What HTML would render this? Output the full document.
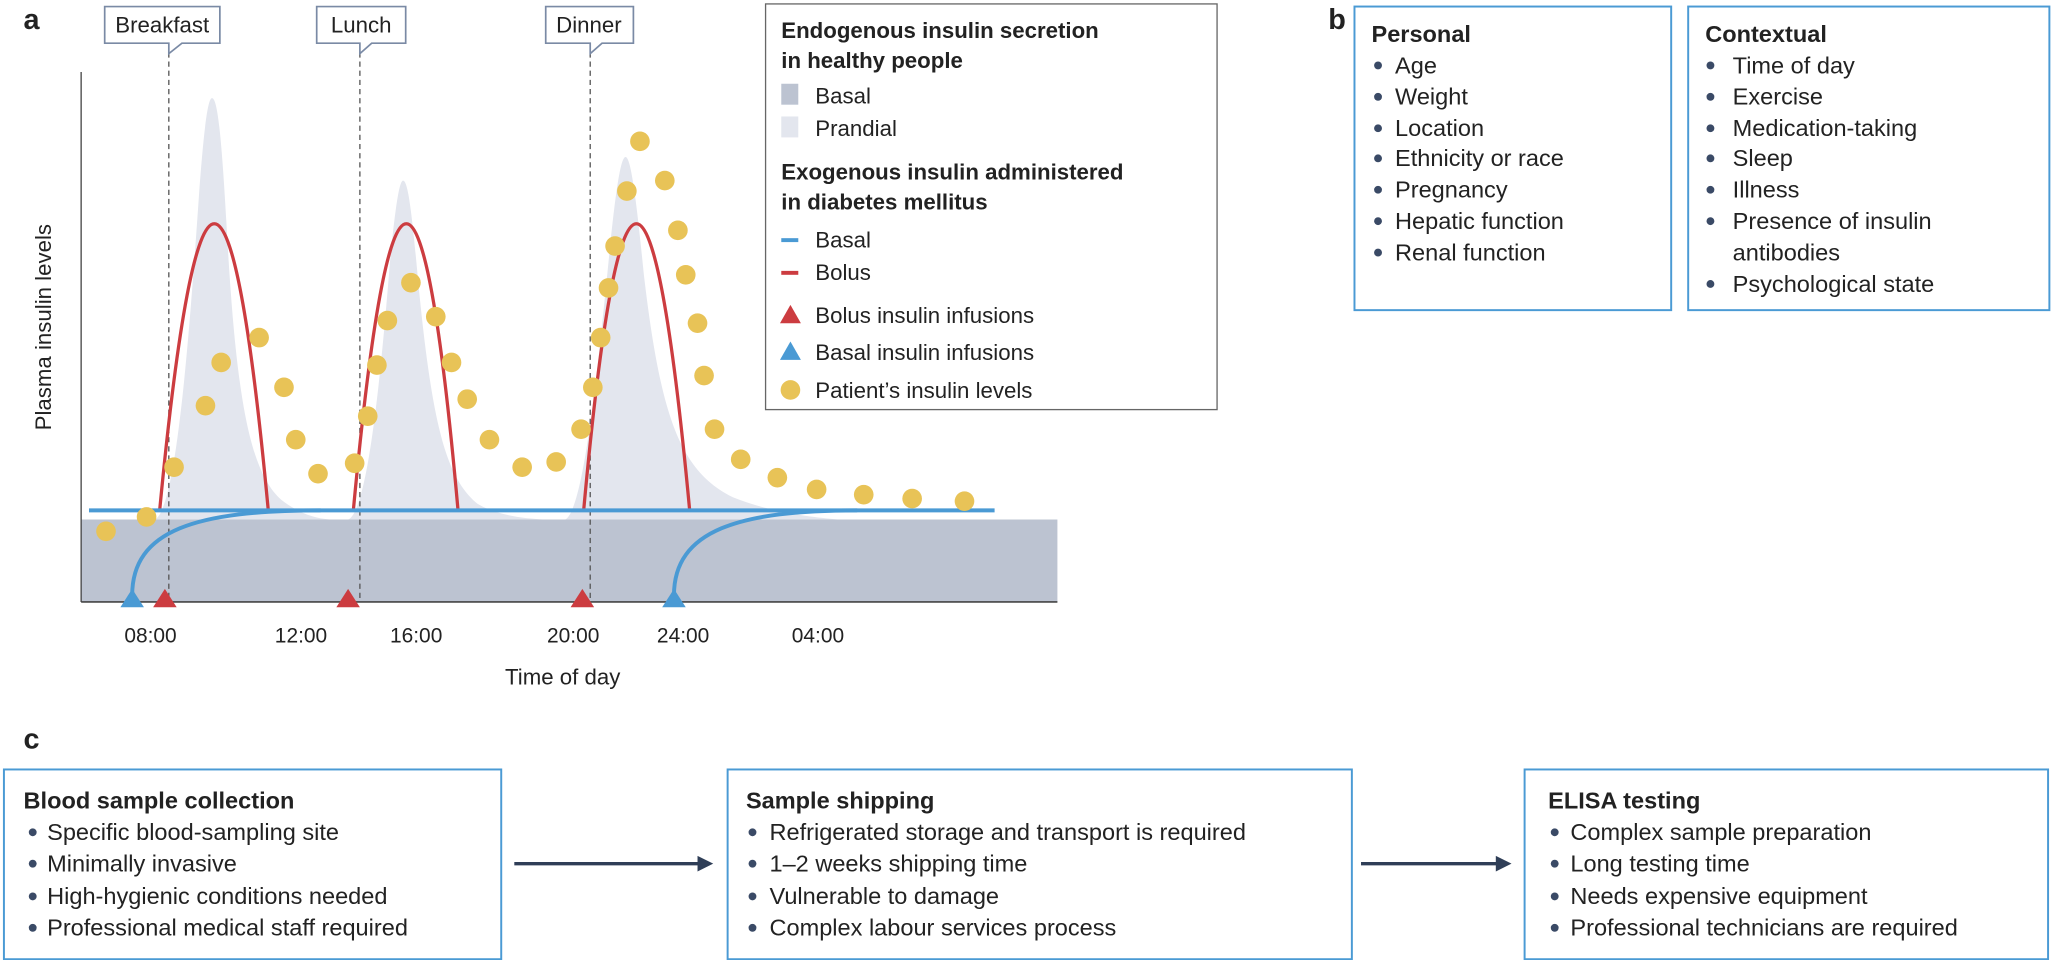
<!DOCTYPE html>
<html><head><meta charset="utf-8"><style>
html,body{margin:0;padding:0;background:#fff;}
svg{display:block;}
text{font-family:"Liberation Sans",sans-serif;fill:#222;}
.b{font-weight:bold;}
</style></head><body>
<svg width="2052" height="960" viewBox="0 0 1568 733.6" preserveAspectRatio="none" xmlns="http://www.w3.org/2000/svg">
<!-- Panel a -->
<text x="18" y="22" class="b" font-size="22">a</text>
<rect x="62" y="397" width="746" height="63" fill="#bcc3d1"/>
<g fill="#e3e6ee">
<path d="M118,397 C135,392 145,250 152,150 C156,95 159,75 162,75 C166,75 169,100 173,170 C180,300 190,360 215,382 C228,392 240,396 252,397 Z"/>
<path d="M266,397 C280,392 290,300 298,200 C302,160 305,138 308,138 C312,138 315,165 320,220 C330,320 340,365 365,385 C380,394 400,396 415,397 Z"/>
<path d="M432,397 C445,390 455,300 465,200 C470,150 474,120 478,120 C482,120 486,150 492,210 C505,320 520,360 560,380 C590,392 620,395 640,397 Z"/>
</g>
<g stroke="#555" stroke-width="1" stroke-dasharray="4,3">
<line x1="129" y1="40" x2="129" y2="460"/>
<line x1="275" y1="40" x2="275" y2="460"/>
<line x1="451" y1="40" x2="451" y2="460"/>
</g>
<line x1="62" y1="55" x2="62" y2="460" stroke="#444" stroke-width="1"/>
<line x1="62" y1="460" x2="808" y2="460" stroke="#444" stroke-width="1.2"/>
<g fill="none" stroke="#cc3c40" stroke-width="2.5">
<path d="M122,390 Q164,-48 205,390"/>
<path d="M270,390 Q311,-48 350,390"/>
<path d="M446,390 Q486,-48 527,390"/>
</g>
<g fill="none" stroke="#4a9ad4" stroke-width="3">
<line x1="68" y1="390" x2="760" y2="390"/>
<path d="M101,455 C101,405 150,390 245,390"/>
<path d="M515,455 C515,405 565,390 655,390"/>
</g>
<g fill="#cc3c40">
<polygon points="126,450 117,464 135,464"/>
<polygon points="266,450 257,464 275,464"/>
<polygon points="445,450 436,464 454,464"/>
</g>
<g fill="#4a9ad4">
<polygon points="101,450 92,464 110,464"/>
<polygon points="515,450 506,464 524,464"/>
</g>
<g fill="#e8c357">
<circle cx="81" cy="406" r="7.5"/><circle cx="112" cy="395" r="7.5"/><circle cx="133" cy="357" r="7.5"/><circle cx="157" cy="310" r="7.5"/><circle cx="169" cy="277" r="7.5"/><circle cx="198" cy="258" r="7.5"/><circle cx="217" cy="296" r="7.5"/><circle cx="226" cy="336" r="7.5"/><circle cx="243" cy="362" r="7.5"/>
<circle cx="271" cy="354" r="7.5"/><circle cx="281" cy="318" r="7.5"/><circle cx="288" cy="279" r="7.5"/><circle cx="296" cy="245" r="7.5"/><circle cx="314" cy="216" r="7.5"/><circle cx="333" cy="242" r="7.5"/><circle cx="345" cy="277" r="7.5"/><circle cx="357" cy="305" r="7.5"/><circle cx="374" cy="336" r="7.5"/><circle cx="399" cy="357" r="7.5"/><circle cx="425" cy="353" r="7.5"/>
<circle cx="444" cy="328" r="7.5"/><circle cx="453" cy="296" r="7.5"/><circle cx="459" cy="258" r="7.5"/><circle cx="465" cy="220" r="7.5"/><circle cx="470" cy="188" r="7.5"/><circle cx="479" cy="146" r="7.5"/><circle cx="489" cy="108" r="7.5"/><circle cx="508" cy="138" r="7.5"/><circle cx="518" cy="176" r="7.5"/><circle cx="524" cy="210" r="7.5"/><circle cx="533" cy="247" r="7.5"/><circle cx="538" cy="287" r="7.5"/><circle cx="546" cy="328" r="7.5"/><circle cx="566" cy="351" r="7.5"/><circle cx="594" cy="365" r="7.5"/><circle cx="624" cy="374" r="7.5"/><circle cx="660" cy="378" r="7.5"/><circle cx="697" cy="381" r="7.5"/><circle cx="737" cy="383" r="7.5"/>
</g>
<g fill="#fff" stroke="#7a8aa5" stroke-width="1.3">
<path d="M80,5 H168 V33 H139 L129,41 V33 H80 Z"/>
<path d="M242,5 H310 V33 H284 L275,41 V33 H242 Z"/>
<path d="M417,5 H484 V33 H460 L451,41 V33 H417 Z"/>
</g>
<g font-size="17">
<text x="124" y="25" text-anchor="middle">Breakfast</text>
<text x="276" y="25" text-anchor="middle">Lunch</text>
<text x="450" y="25" text-anchor="middle">Dinner</text>
</g>
<g font-size="16" text-anchor="middle">
<text x="115" y="491">08:00</text>
<text x="230" y="491">12:00</text>
<text x="318" y="491">16:00</text>
<text x="438" y="491">20:00</text>
<text x="522" y="491">24:00</text>
<text x="625" y="491">04:00</text>
</g>
<text x="430" y="523" font-size="17" text-anchor="middle">Time of day</text>
<text transform="translate(39,250) rotate(-90)" font-size="17" text-anchor="middle">Plasma insulin levels</text>
<rect x="585" y="3" width="345" height="310" fill="#fff" stroke="#666" stroke-width="1"/>
<g font-size="17">
<text x="597" y="29" class="b">Endogenous insulin secretion</text>
<text x="597" y="52" class="b">in healthy people</text>
<rect x="597" y="64" width="13" height="16" fill="#bcc3d1"/>
<text x="623" y="79">Basal</text>
<rect x="597" y="89" width="13" height="16" fill="#e3e6ee"/>
<text x="623" y="104">Prandial</text>
<text x="597" y="137" class="b">Exogenous insulin administered</text>
<text x="597" y="160" class="b">in diabetes mellitus</text>
<rect x="597" y="182" width="13" height="3" fill="#4a9ad4"/>
<text x="623" y="189">Basal</text>
<rect x="597" y="207" width="13" height="3" fill="#cc3c40"/>
<text x="623" y="214">Bolus</text>
<polygon points="604,233 596,247 612,247" fill="#cc3c40"/>
<text x="623" y="247">Bolus insulin infusions</text>
<polygon points="604,261 596,275 612,275" fill="#4a9ad4"/>
<text x="623" y="275">Basal insulin infusions</text>
<circle cx="604" cy="298" r="7.5" fill="#e8c357"/>
<text x="623" y="304">Patient’s insulin levels</text>
</g>
<!-- Panel b -->
<text x="1015" y="22" class="b" font-size="22">b</text>
<rect x="1035" y="5" width="242" height="232" fill="none" stroke="#4a9ad4" stroke-width="1.5"/>
<rect x="1290" y="5" width="276" height="232" fill="none" stroke="#4a9ad4" stroke-width="1.5"/>
<g font-size="18">
<text x="1048" y="32" class="b">Personal</text>
<text x="1303" y="32" class="b">Contextual</text>
</g>
<g fill="#3a4a66">
<circle cx="1053" cy="50" r="3"/><circle cx="1053" cy="74" r="3"/><circle cx="1053" cy="98" r="3"/><circle cx="1053" cy="121" r="3"/><circle cx="1053" cy="145" r="3"/><circle cx="1053" cy="169" r="3"/><circle cx="1053" cy="193" r="3"/>
<circle cx="1307" cy="50" r="3"/><circle cx="1307" cy="74" r="3"/><circle cx="1307" cy="98" r="3"/><circle cx="1307" cy="121" r="3"/><circle cx="1307" cy="145" r="3"/><circle cx="1307" cy="169" r="3"/><circle cx="1307" cy="217" r="3"/>
</g>
<g font-size="18">
<text x="1066" y="56">Age</text>
<text x="1066" y="80">Weight</text>
<text x="1066" y="104">Location</text>
<text x="1066" y="127">Ethnicity or race</text>
<text x="1066" y="151">Pregnancy</text>
<text x="1066" y="175">Hepatic function</text>
<text x="1066" y="199">Renal function</text>
<text x="1324" y="56">Time of day</text>
<text x="1324" y="80">Exercise</text>
<text x="1324" y="104">Medication-taking</text>
<text x="1324" y="127">Sleep</text>
<text x="1324" y="151">Illness</text>
<text x="1324" y="175">Presence of insulin</text>
<text x="1324" y="199">antibodies</text>
<text x="1324" y="223">Psychological state</text>
</g>
<!-- Panel c -->
<text x="18" y="572" class="b" font-size="22">c</text>
<g fill="none" stroke="#4a9ad4" stroke-width="1.5">
<rect x="3" y="588" width="380" height="145"/>
<rect x="556" y="588" width="477" height="145"/>
<rect x="1165" y="588" width="400" height="145"/>
</g>
<g stroke="#2f3e57" stroke-width="2.5"><line x1="393" y1="660" x2="535" y2="660"/><line x1="1040" y1="660" x2="1145" y2="660"/></g>
<g fill="#2f3e57"><polygon points="545,660 533,654 533,666"/><polygon points="1155,660 1143,654 1143,666"/></g>
<g fill="#3a4a66">
<circle cx="25" cy="636" r="3"/><circle cx="25" cy="660" r="3"/><circle cx="25" cy="685" r="3"/><circle cx="25" cy="709" r="3"/>
<circle cx="575" cy="636" r="3"/><circle cx="575" cy="660" r="3"/><circle cx="575" cy="685" r="3"/><circle cx="575" cy="709" r="3"/>
<circle cx="1188" cy="636" r="3"/><circle cx="1188" cy="660" r="3"/><circle cx="1188" cy="685" r="3"/><circle cx="1188" cy="709" r="3"/>
</g>
<g font-size="18">
<text x="18" y="618" class="b">Blood sample collection</text>
<text x="36" y="642">Specific blood-sampling site</text>
<text x="36" y="666">Minimally invasive</text>
<text x="36" y="691">High-hygienic conditions needed</text>
<text x="36" y="715">Professional medical staff required</text>
<text x="570" y="618" class="b">Sample shipping</text>
<text x="588" y="642">Refrigerated storage and transport is required</text>
<text x="588" y="666">1–2 weeks shipping time</text>
<text x="588" y="691">Vulnerable to damage</text>
<text x="588" y="715">Complex labour services process</text>
<text x="1183" y="618" class="b">ELISA testing</text>
<text x="1200" y="642">Complex sample preparation</text>
<text x="1200" y="666">Long testing time</text>
<text x="1200" y="691">Needs expensive equipment</text>
<text x="1200" y="715">Professional technicians are required</text>
</g>
</svg>
</body></html>
